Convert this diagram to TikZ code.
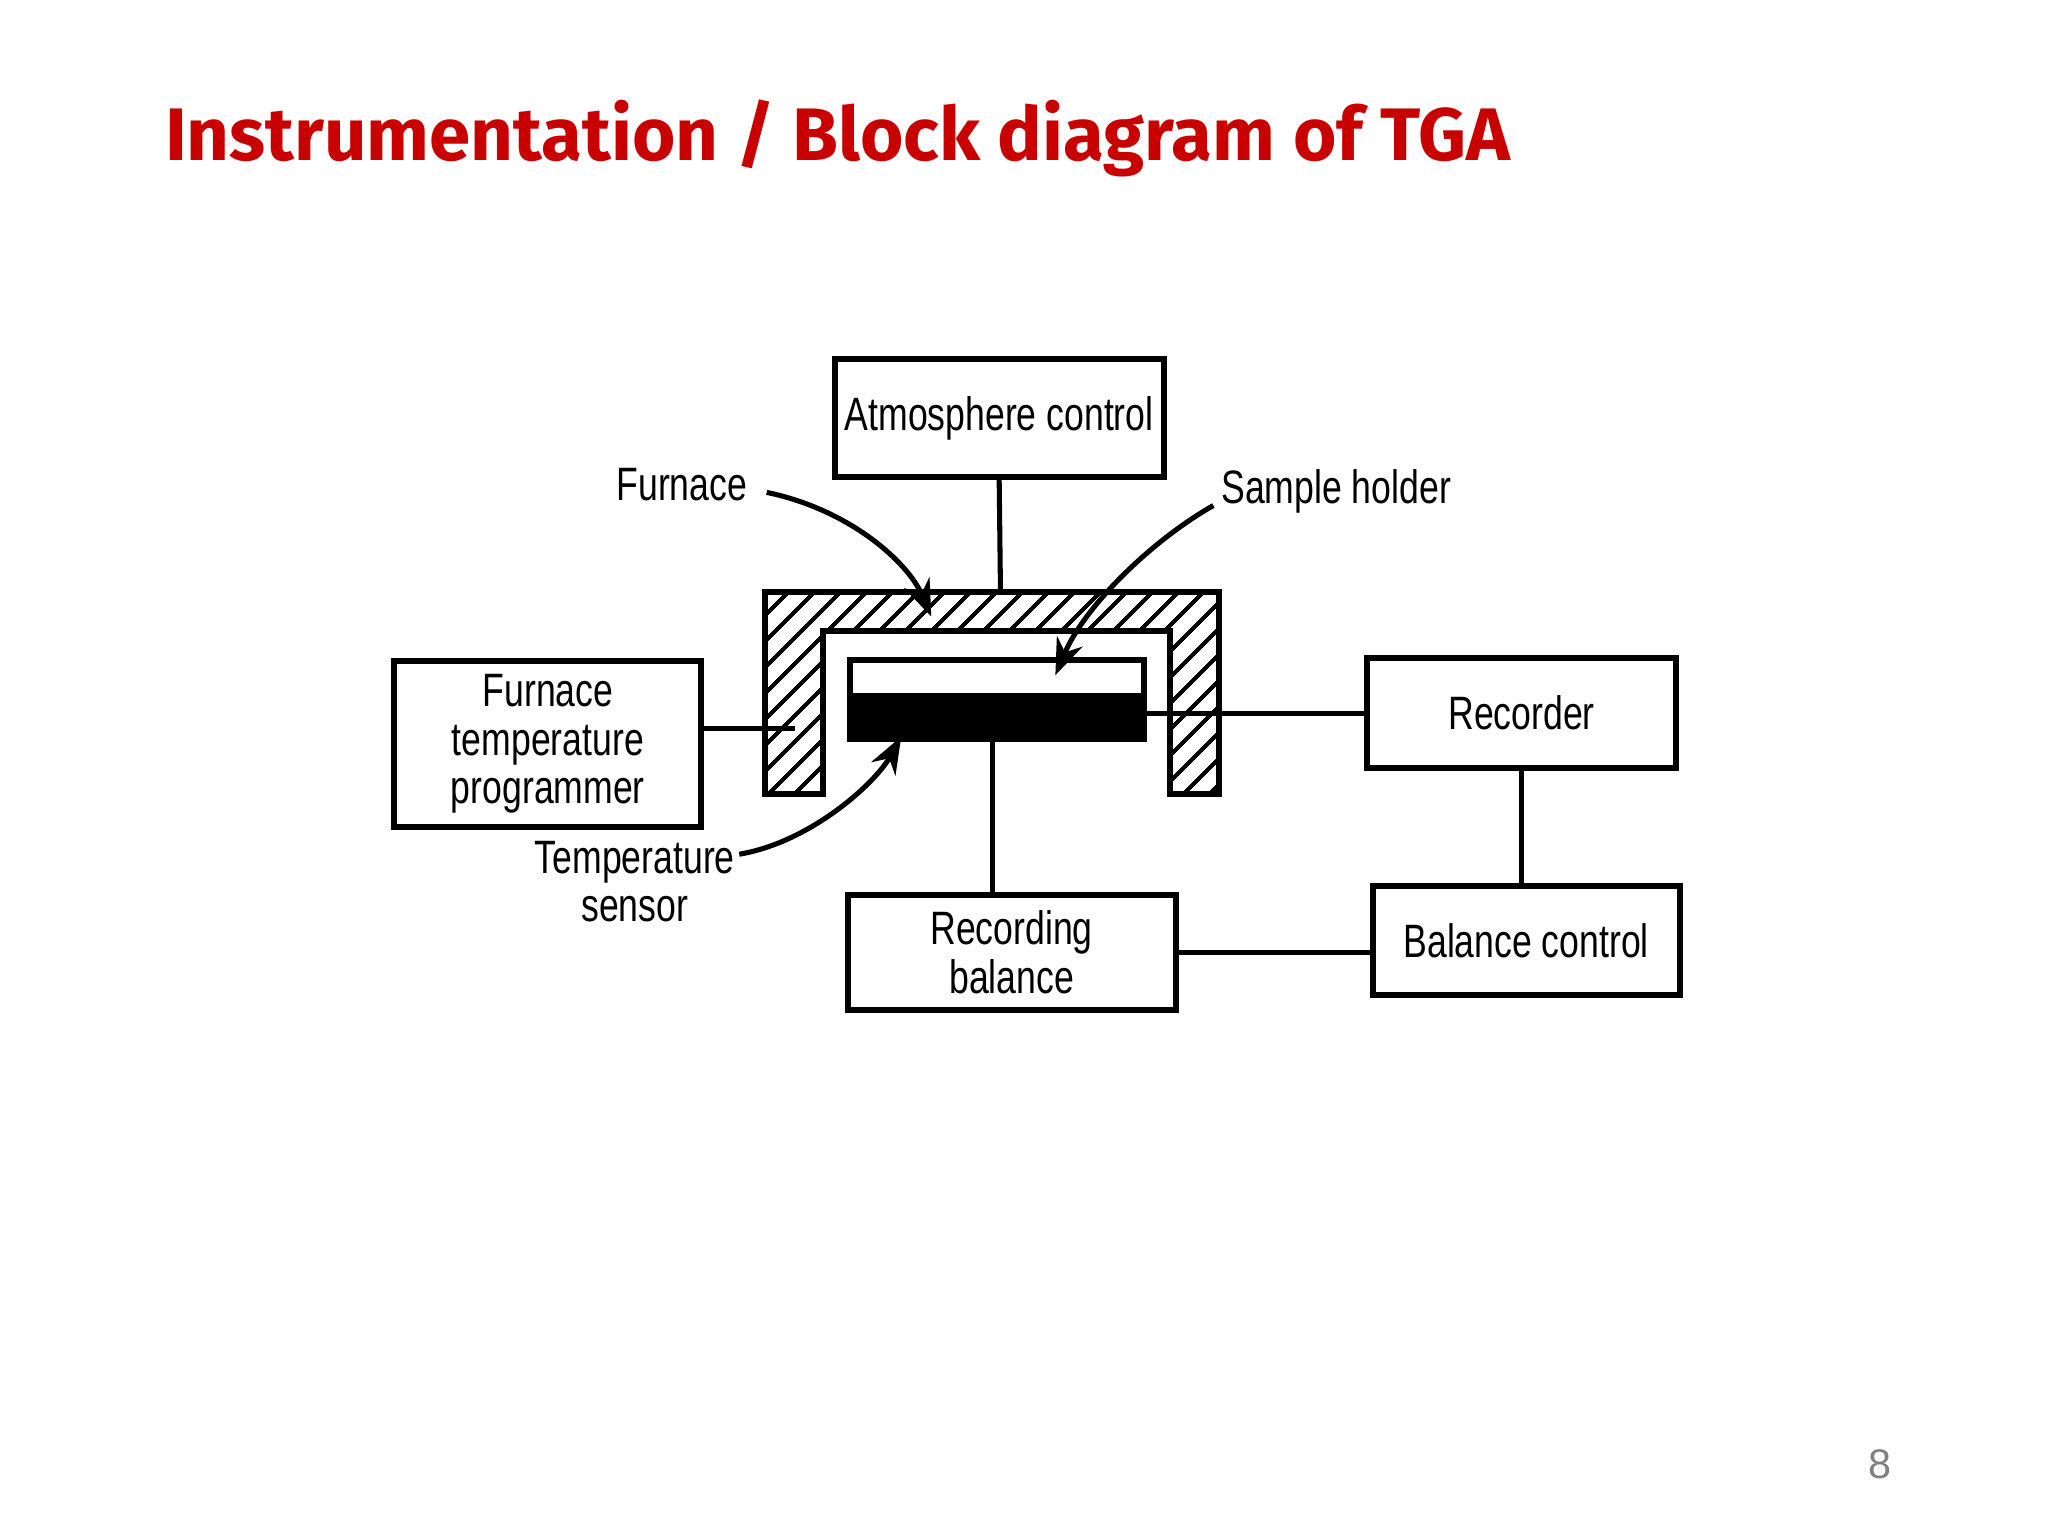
\documentclass[tikz,border=0pt]{standalone}
\usepackage{fontspec}
\setmainfont{Liberation Sans}
\newfontfamily\cond{Liberation Sans}[FakeStretch=0.76]
\newfontfamily\ttl{Fira Sans}
\usetikzlibrary{patterns.meta,arrows.meta}
\definecolor{titlered}{RGB}{200,0,0}
\begin{document}
\begin{tikzpicture}[x=0.01cm,y=-0.01cm,
  box/.style={draw,line width=1.3pt,inner sep=0pt,align=center,font=\cond\fontsize{10.2}{10.6}\selectfont},
  lbl/.style={align=center,font=\cond\fontsize{10.2}{10.6}\selectfont},
  ln/.style={line width=1.1pt},
  arr/.style={line width=1.1pt,-{Stealth[length=8pt,width=6pt]}}]
\useasboundingbox (0,0) rectangle (1568,1176);
\node[anchor=west,text=titlered,font=\ttl\bfseries\fontsize{16.2}{20}\selectfont] (title) at (114,106) {Instrumentation / Block diagram of TGA};
\node[box,minimum width=2.52cm,minimum height=0.90cm] (atm) at (765,320) {Atmosphere control};
\node[box,minimum width=2.35cm,minimum height=1.27cm] (ftp) at (419.5,569.5) {Furnace\\temperature\\programmer};
\node[box,minimum width=2.36cm,minimum height=0.84cm] (rec) at (1165,546) {Recorder};
\node[box,minimum width=2.35cm,minimum height=0.84cm] (bal) at (1168.5,720) {Balance control};
\node[box,minimum width=2.51cm,minimum height=0.88cm] (rb) at (774.5,729) {Recording\\balance};
% furnace
\path[draw,line width=1.3pt,pattern={Lines[angle=45,distance=4pt,line width=0.9pt]}]
 (586,608) -- (586,453) -- (933,453) -- (933,608) -- (896,608) -- (896,483) -- (630,483) -- (630,608) -- cycle;
\coordinate (ftop) at (766,453);
\coordinate (fleft) at (609,558);
\node[draw,line width=1.3pt,fill=white,minimum width=2.25cm,minimum height=0.28cm,inner sep=0pt] (sh) at (763.5,519) {};
\node[draw,line width=1.3pt,fill=black,minimum width=2.25cm,minimum height=0.33cm,inner sep=0pt] (pan) at (763.5,549.5) {};
\draw[ln] (atm.south) -- (ftop);
\draw[ln] (ftp.east|-fleft) -- (fleft);
\draw[ln] (pan.east|-rec.west) -- (rec.west);
\draw[ln] (rec.south) -- (rec.south|-bal.north);
\draw[ln] (760,566) -- (760,685);
\draw[ln] (rb.east) -- (rb.east-|bal.west);
\node[lbl] (fur) at (522,371) {Furnace};
\node[lbl] (shl) at (1023,376) {Sample holder};
\node[lbl] (ts) at (486,675) {Temperature\\sensor};
\coordinate (fa) at (713,472);
\coordinate (sa) at (808,517);
\coordinate (ta) at (690,564);
\draw[arr] (587,377) .. controls (650,390) and (695,430) .. (fa);
\draw[arr] (929,387) .. controls (880,415) and (830,465) .. (sa);
\draw[arr] (566,654) .. controls (620,645) and (670,600) .. (ta);
\node[text=gray,font=\fontsize{9}{10}\selectfont] (pg) at (1439,1121) {8};
\end{tikzpicture}
\end{document}
